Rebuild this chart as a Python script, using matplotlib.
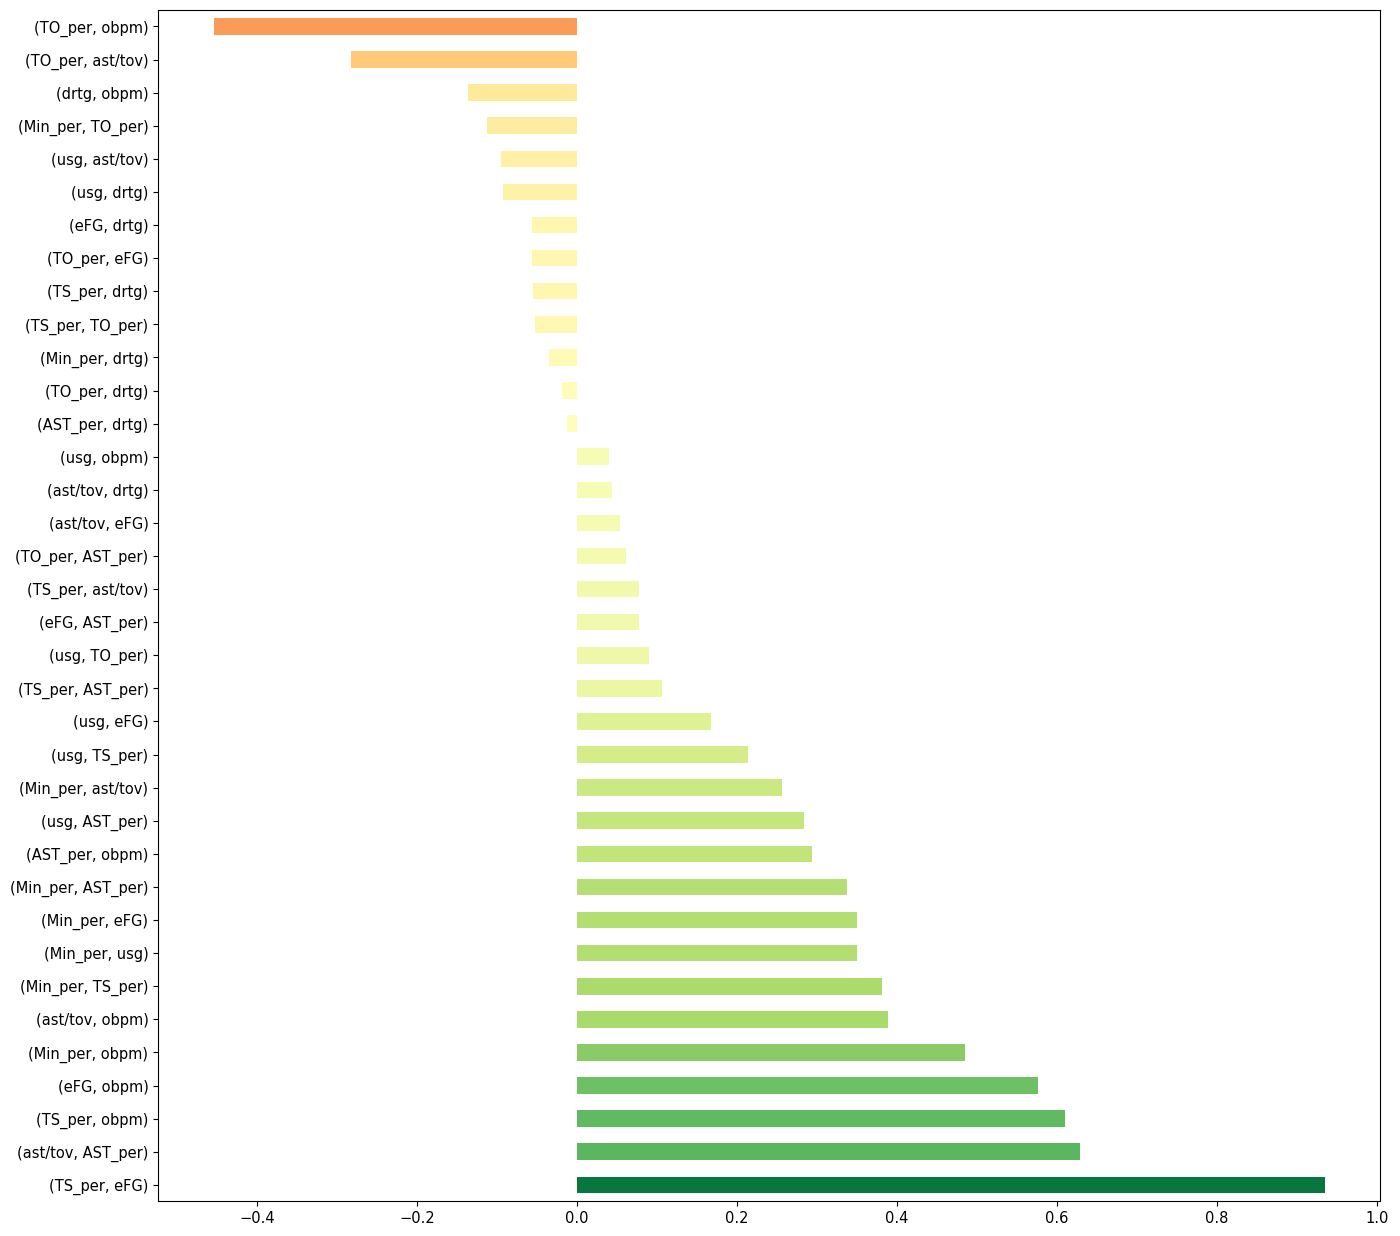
import numpy as np
import matplotlib
matplotlib.use('Agg')
import matplotlib.pyplot as plt

# pairs ordered bottom -> top
pairs = ['(TS_per, eFG)', '(ast/tov, AST_per)', '(TS_per, obpm)', '(eFG, obpm)',
         '(Min_per, obpm)', '(ast/tov, obpm)', '(Min_per, TS_per)', '(Min_per, usg)',
         '(Min_per, eFG)', '(Min_per, AST_per)', '(AST_per, obpm)', '(usg, AST_per)',
         '(Min_per, ast/tov)', '(usg, TS_per)', '(usg, eFG)', '(TS_per, AST_per)',
         '(usg, TO_per)', '(eFG, AST_per)', '(TS_per, ast/tov)', '(TO_per, AST_per)',
         '(ast/tov, eFG)', '(ast/tov, drtg)', '(usg, obpm)', '(AST_per, drtg)',
         '(TO_per, drtg)', '(Min_per, drtg)', '(TS_per, TO_per)', '(TS_per, drtg)',
         '(TO_per, eFG)', '(eFG, drtg)', '(usg, drtg)', '(usg, ast/tov)',
         '(Min_per, TO_per)', '(drtg, obpm)', '(TO_per, ast/tov)', '(TO_per, obpm)']
corr = [0.935, 0.629, 0.61, 0.576,
        0.485, 0.389, 0.381, 0.35,
        0.35, 0.3375, 0.294, 0.284,
        0.256, 0.214, 0.1675, 0.106,
        0.09, 0.078, 0.0775, 0.061,
        0.054, 0.044, 0.04, -0.0125,
        -0.019, -0.035, -0.0525, -0.055,
        -0.056, -0.056, -0.0925, -0.095,
        -0.1125, -0.136, -0.2825, -0.454]

corr = np.array(corr)
colors = plt.cm.RdYlGn((corr + 1) / 2)

fig, ax = plt.subplots(figsize=(14, 12.36), dpi=100)
y = np.arange(len(pairs))
ax.barh(y, corr, height=0.5, color=colors)
ax.set_yticks(y)
ax.set_yticklabels(pairs)
ax.set_ylim(-0.5, len(pairs) - 0.5)
ax.tick_params(labelsize=10.5)

fig.subplots_adjust(left=0.113, right=0.986, top=0.992, bottom=0.028)
plt.savefig('out.png')
